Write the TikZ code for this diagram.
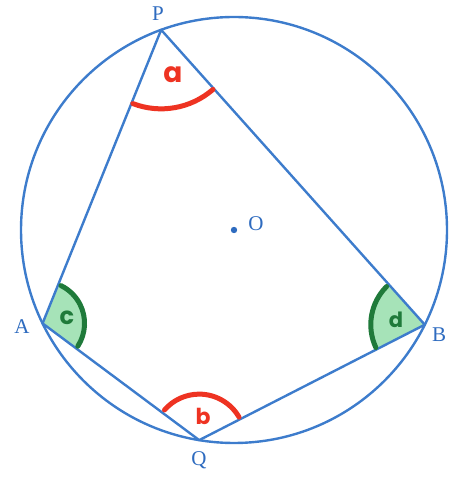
\documentclass[tikz,border=0pt]{standalone}
\usepackage{fontspec}
\setmainfont{Liberation Serif}
\newfontfamily\handfont{Poppins}
\usetikzlibrary{calc}
\definecolor{lineblue}{HTML}{3D7CCC}
\definecolor{labelblue}{HTML}{2E6BBF}
\definecolor{markred}{HTML}{EE3322}
\definecolor{markgreen}{HTML}{1F7A3A}
\definecolor{fillgreen}{HTML}{A6E3B8}
\tikzset{
  blueline/.style={draw=lineblue, line width=2.4pt, line join=round},
  ptlabel/.style={text=labelblue, font=\fontsize{21}{21}\selectfont, inner sep=0pt},
  redmark/.style={draw=markred, line width=5pt, line cap=round},
  greenmark/.style={draw=markgreen, line width=5pt, line cap=round},
  greenfill/.style={fill=fillgreen},
  redletter/.style={text=markred, font=\handfont\bfseries\fontsize{28}{28}\selectfont, inner sep=0pt},
  greenletter/.style={text=markgreen, font=\handfont\bfseries\fontsize{24}{24}\selectfont, inner sep=0pt},
}
\begin{document}
\begin{tikzpicture}[x=1pt, y=1pt]
\useasboundingbox (0,0) rectangle (474,481);
\coordinate (O) at (234,251);
\coordinate (P) at ($(O)+(110:213)$);
\coordinate (A) at ($(O)+(206:213)$);
\coordinate (B) at ($(O)+(333.6:213)$);
\coordinate (Q) at ($(O)+(260.6:213)$);
% green sectors
\fill[greenfill] (A) -- ++(-36.7:42) arc[start angle=-36.7, end angle=68, radius=42] -- cycle;
\fill[greenfill] (B) -- ++(131.8:54) arc[start angle=131.8, end angle=207.1, radius=54] -- cycle;
% circle and quadrilateral
\draw[blueline] (O) circle[radius=213];
\draw[blueline] (P) -- (B) -- (Q) -- (A) -- cycle;
% angle marks
\draw[redmark] ($(P)+(249:79)$) arc[start angle=249, end angle=311, radius=79];
\draw[redmark] ($(Q)+(30:46)$) arc[start angle=30, end angle=139, radius=46];
\draw[greenmark] ($(A)+(-33:42)$) arc[start angle=-33, end angle=64, radius=42];
\draw[greenmark] ($(B)+(135:54)$) arc[start angle=135, end angle=205, radius=54];
% centre
\fill[labelblue] (O) circle[radius=3.2];
% labels
\node[ptlabel] (lP) at (158,467) {P};
\node[ptlabel] (lO) at (256,257) {O};
\node[ptlabel] (lA) at (22,154) {A};
\node[ptlabel] (lB) at (439,146) {B};
\node[ptlabel] (lQ) at (199,21) {Q};
\node[redletter] (la) at (173,406) {a};
\node[redletter, font=\handfont\bfseries\fontsize{22}{22}\selectfont] (lb) at (203,65) {b};
\node[greenletter] (lc) at (67,163) {c};
\node[greenletter, font=\handfont\bfseries\fontsize{21}{21}\selectfont] (ld) at (396,161) {d};
\end{tikzpicture}
\end{document}
